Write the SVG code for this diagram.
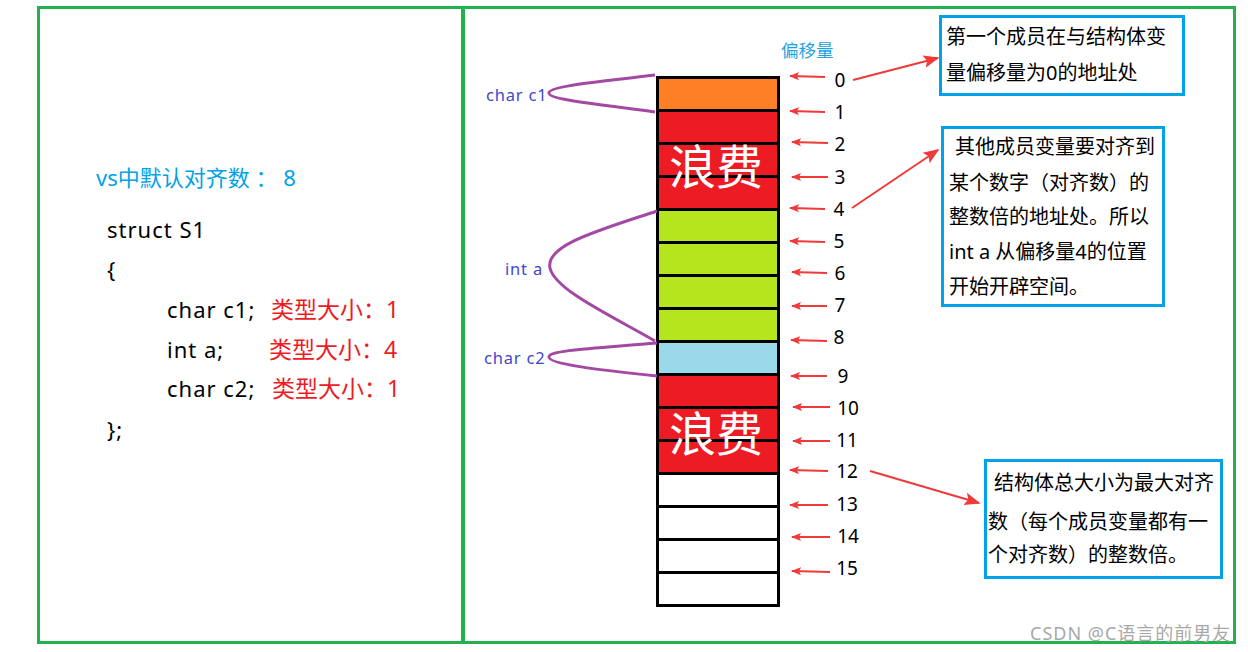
<svg xmlns="http://www.w3.org/2000/svg" width="1248" height="652" viewBox="0 0 1248 652">
<style>
.frame{fill:none;stroke:#22B14C;stroke-width:3}
.note{fill:#fff;stroke:#00A2E8;stroke-width:3}
.cell{stroke:#000;stroke-width:3}
.t{font-family:"Noto Sans","Noto Sans CJK SC",sans-serif}
.code{font-size:22px;fill:#000;letter-spacing:1px}
.red{fill:#ED1C24;font-size:23px;letter-spacing:0}
.num{font-size:19px;fill:#000;text-anchor:middle}
.lbl{font-size:16.5px;fill:#3F48CC;letter-spacing:0.8px}
.ntxt{font-size:20px;fill:#000}
.waste{font-size:47px;fill:#fff;text-anchor:middle}
.brace{fill:none;stroke:#A349A4;stroke-width:3}
.ptr{stroke:#F03A3A;stroke-width:2;fill:none}
</style>
<defs>
<marker id="ah" viewBox="0 0 10 10" refX="9" refY="5" markerWidth="5" markerHeight="5" orient="auto" markerUnits="strokeWidth">
<path d="M0,1 L10,5 L0,9 L2,5 Z" fill="#F03A3A"/>
</marker>
<marker id="ah2" viewBox="0 0 10 10" refX="9" refY="5" markerWidth="8" markerHeight="8" orient="auto" markerUnits="strokeWidth">
<path d="M0,1 L10,5 L0,9 L2,5 Z" fill="#F03A3A"/>
</marker>
</defs>
<rect width="1248" height="652" fill="#fff"/>
<g id="frames">
<rect class="frame" x="38.5" y="7.5" width="424" height="635"/>
<rect class="frame" x="463.5" y="7.5" width="771" height="635"/>
</g>
<g id="code" class="t">
<text x="96" y="186" font-size="22" fill="#00A2E8">vs中默认对齐数 ： 8</text>
<text class="code" x="107" y="238">struct S1</text>
<text class="code" x="107" y="278">{</text>
<text class="code" x="167" y="318">char c1;</text>
<text class="code red" x="271" y="318">类型大小：1</text>
<text class="code" x="167" y="358">int a;</text>
<text class="code red" x="269" y="358">类型大小：4</text>
<text class="code" x="167" y="397">char c2;</text>
<text class="code red" x="272" y="397">类型大小：1</text>
<text class="code" x="107" y="438">};</text>
</g>
<g id="memory">
<rect class="cell" x="657.5" y="77.5" width="121" height="33" fill="#FF7F27"/>
<rect class="cell" x="657.5" y="110.5" width="121" height="33" fill="#ED1C24"/>
<rect class="cell" x="657.5" y="143.5" width="121" height="33" fill="#ED1C24"/>
<rect class="cell" x="657.5" y="176.5" width="121" height="33" fill="#ED1C24"/>
<rect class="cell" x="657.5" y="209.5" width="121" height="33" fill="#B5E61D"/>
<rect class="cell" x="657.5" y="242.5" width="121" height="33" fill="#B5E61D"/>
<rect class="cell" x="657.5" y="275.5" width="121" height="33" fill="#B5E61D"/>
<rect class="cell" x="657.5" y="308.5" width="121" height="33" fill="#B5E61D"/>
<rect class="cell" x="657.5" y="341.5" width="121" height="33" fill="#99D9EA"/>
<rect class="cell" x="657.5" y="374.5" width="121" height="33" fill="#ED1C24"/>
<rect class="cell" x="657.5" y="407.5" width="121" height="33" fill="#ED1C24"/>
<rect class="cell" x="657.5" y="440.5" width="121" height="33" fill="#ED1C24"/>
<rect class="cell" x="657.5" y="473.5" width="121" height="33" fill="#fff"/>
<rect class="cell" x="657.5" y="506.5" width="121" height="33" fill="#fff"/>
<rect class="cell" x="657.5" y="539.5" width="121" height="33" fill="#fff"/>
<rect class="cell" x="657.5" y="572.5" width="121" height="33" fill="#fff"/>
<text class="t waste" x="716" y="184">浪费</text>
<text class="t waste" x="716" y="451">浪费</text>
</g>
<g id="offsets" class="t">
<text x="781" y="57" font-size="17.5" fill="#1FA3E0">偏移量</text>
<text class="num" x="840" y="87">0</text>
<text class="num" x="840" y="119">1</text>
<text class="num" x="840" y="151">2</text>
<text class="num" x="840" y="184">3</text>
<text class="num" x="839" y="216">4</text>
<text class="num" x="839" y="248">5</text>
<text class="num" x="840" y="280">6</text>
<text class="num" x="840" y="312">7</text>
<text class="num" x="839" y="344">8</text>
<text class="num" x="843" y="383">9</text>
<text class="num" x="848" y="415">10</text>
<text class="num" x="847" y="447">11</text>
<text class="num" x="847" y="478">12</text>
<text class="num" x="847" y="511">13</text>
<text class="num" x="848" y="543">14</text>
<text class="num" x="847" y="575">15</text>
</g>
<g id="labels" class="t">
<text class="lbl" x="486" y="101">char c1</text>
<text class="lbl" x="505" y="275">int a</text>
<text class="lbl" x="484" y="364">char c2</text>
</g>
<g id="connectors">
<g class="ptr">
<line x1="825" y1="77" x2="790" y2="76" marker-end="url(#ah)"/>
<line x1="825" y1="112" x2="790" y2="111" marker-end="url(#ah)"/>
<line x1="828" y1="143" x2="792" y2="142" marker-end="url(#ah)"/>
<line x1="828" y1="177" x2="792" y2="177" marker-end="url(#ah)"/>
<line x1="825" y1="209" x2="790" y2="208" marker-end="url(#ah)"/>
<line x1="825" y1="242" x2="790" y2="241" marker-end="url(#ah)"/>
<line x1="827" y1="273" x2="792" y2="272" marker-end="url(#ah)"/>
<line x1="827" y1="306" x2="792" y2="306" marker-end="url(#ah)"/>
<line x1="827" y1="341" x2="791" y2="340" marker-end="url(#ah)"/>
<line x1="827" y1="376" x2="791" y2="376" marker-end="url(#ah)"/>
<line x1="830" y1="407" x2="793" y2="407" marker-end="url(#ah)"/>
<line x1="830" y1="441" x2="793" y2="441" marker-end="url(#ah)"/>
<line x1="828" y1="471" x2="790" y2="470" marker-end="url(#ah)"/>
<line x1="828" y1="505" x2="790" y2="505" marker-end="url(#ah)"/>
<line x1="830" y1="537" x2="792" y2="537" marker-end="url(#ah)"/>
<line x1="830" y1="572" x2="792" y2="571" marker-end="url(#ah)"/>
</g>
<g class="ptr">
<line x1="853" y1="80" x2="938" y2="58" marker-end="url(#ah2)"/>
<line x1="852" y1="208" x2="938" y2="150" marker-end="url(#ah2)"/>
<line x1="870" y1="471" x2="979" y2="503" marker-end="url(#ah2)"/>
</g>
<path class="brace" d="M655,75 C600,82 548,86 549,93 C548,100 600,104 655,112"/>
<path class="brace" d="M657,211 C600,230 545,245 550,268 C555,290 610,315 655,341"/>
<path class="brace" d="M657,343 C600,348 548,350 549,357 C548,364 600,370 657,376"/>
</g>
<g id="note1" class="t">
<rect class="note" x="940.5" y="16.5" width="243" height="78"/>
<text class="ntxt" x="946" y="44">第一个成员在与结构体变</text>
<text class="ntxt" x="946" y="80">量偏移量为0的地址处</text>
</g>
<g id="note2" class="t">
<rect class="note" x="942.5" y="127.5" width="221" height="178"/>
<text class="ntxt" x="955" y="154">其他成员变量要对齐到</text>
<text class="ntxt" x="949" y="190">某个数字（对齐数）的</text>
<text class="ntxt" x="949" y="224">整数倍的地址处。所以</text>
<text class="ntxt" x="949" y="259">int a 从偏移量4的位置</text>
<text class="ntxt" x="949" y="294">开始开辟空间。</text>
</g>
<g id="note3" class="t">
<rect class="note" x="985.5" y="460.5" width="236" height="117"/>
<text class="ntxt" x="994" y="490">结构体总大小为最大对齐</text>
<text class="ntxt" x="988" y="529">数（每个成员变量都有一</text>
<text class="ntxt" x="988" y="562">个对齐数）的整数倍。</text>
</g>
<text class="t" x="1030" y="640" font-size="18" fill="#A8A8A8" letter-spacing="1">CSDN @C语言的前男友</text>
</svg>
